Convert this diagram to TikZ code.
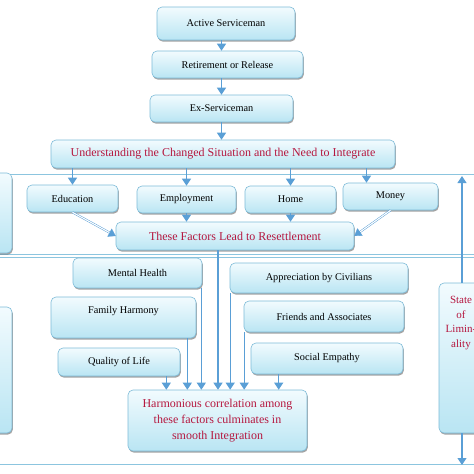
\documentclass[tikz,border=0pt]{standalone}
\usepackage{fontspec}
\setmainfont{Liberation Serif}
\usetikzlibrary{arrows.meta,shadows}

\definecolor{boxline}{HTML}{7DBBD8}
\definecolor{boxtop}{HTML}{F2FBFE}
\definecolor{boxbot}{HTML}{B9E5F3}
\definecolor{arrowblue}{HTML}{5A9FD6}
\definecolor{redtxt}{HTML}{B5173F}
\definecolor{frameline}{HTML}{8CC5DF}

\tikzset{
  stagebox/.style={draw=boxline, line width=0.6pt, rounded corners=5pt,
    top color=boxtop, bottom color=boxbot,
    drop shadow={shadow xshift=0.8pt, shadow yshift=-1.6pt, fill=black!60, opacity=0.6},
    align=center, inner sep=2pt, font=\fontsize{10.3}{12}\selectfont},
  keybox/.style={stagebox, text=redtxt, font=\fontsize{12}{16}\selectfont},
  flow/.style={draw=arrowblue, line width=1.1pt, -{Triangle[width=9pt,length=7pt]}},
  dflow/.style={draw=white, line width=0.3pt, -{Triangle[width=9pt,length=7pt,color=arrowblue]},
    preaction={draw=arrowblue, double=white, line width=0.5pt, double distance=1pt, shorten >=6pt, -}},
  frame/.style={draw=frameline, double=white, line width=0.5pt, double distance=0.8pt},
}

\begin{document}
\begin{tikzpicture}[x=1pt,y=-1pt]
  \useasboundingbox (0,0) rectangle (474,474);
  \clip (0,0) rectangle (474,474);
  \fill[white] (0,0) rectangle (474,474);

  % two frames
  \draw[frame] (-20,175) rectangle (500,255);
  \draw[frame] (-20,258) rectangle (500,465);

  % side boxes (cut by the edge)
  \node[stagebox, minimum width=84pt, minimum height=80pt] (sidetop) at (-30,213) {};
  \node[stagebox, minimum width=84pt, minimum height=126pt] (sidelow) at (-30,370) {};

  % stages
  \node[stagebox, minimum width=138pt, minimum height=33pt] (active) at (226,23.5) {Active Serviceman};
  \node[stagebox, minimum width=151pt, minimum height=27pt] (ret) at (227.5,64.5) {Retirement or Release};
  \node[stagebox, minimum width=143pt, minimum height=27pt] (ex) at (221.5,108.5) {Ex-Serviceman};
  \node[keybox, minimum width=344pt, minimum height=28pt] (und) at (223,154) {Understanding the Changed Situation and the Need to Integrate};

  % factors
  \node[stagebox, minimum width=91pt, minimum height=27pt] (edu) at (72.5,198.5) {Education};
  \node[stagebox, minimum width=99pt, minimum height=27pt] (emp) at (186.5,199.5) {Employment};
  \node[stagebox, minimum width=91pt, minimum height=27pt] (home) at (290.5,199.5) {Home};
  \node[stagebox, minimum width=95pt, minimum height=27pt] (money) at (390.5,196.5) {Money};
  \node[keybox, minimum width=238pt, minimum height=28pt] (res) at (235,236) {These Factors Lead to Resettlement};

  % integration
  \node[stagebox, minimum width=129pt, minimum height=30pt] (mh) at (137.5,273) {Mental Health};
  \node[stagebox, minimum width=145pt, minimum height=41pt, text height=7pt, text depth=15pt] (fam) at (123.5,317.5) {Family Harmony};
  \node[stagebox, minimum width=122pt, minimum height=28pt] (qol) at (119,362) {Quality of Life};
  \node[stagebox, minimum width=178pt, minimum height=30pt] (app) at (319,278) {Appreciation by Civilians};
  \node[stagebox, minimum width=160pt, minimum height=31pt] (fri) at (324,316.5) {Friends and Associates};
  \node[stagebox, minimum width=152pt, minimum height=31pt] (soc) at (327,358.5) {Social Empathy};
  \node[keybox, minimum width=179pt, minimum height=61pt] (harm) at (217.5,420.5) {Harmonious correlation among\\these factors culminates in\\smooth Integration};

  \node[stagebox, minimum width=44pt, minimum height=150pt,
    label={[anchor=north, yshift=-10pt, align=center, text=redtxt, font=\fontsize{11}{14.5}\selectfont]north:State\\of\\Limin-\\ality}] (state) at (461,358) {};

  % chain
  \draw[flow] (active.south -| ex.south) -- (ret.north -| ex.south);
  \draw[flow] (ret.south -| ex.north) -- (ex.north);
  \draw[flow] (ex.south) -- (ex.south |- und.north);

  \coordinate (mtop) at ([xshift=-24pt]money.north);
  \draw[flow] (edu.north |- und.south) -- (edu.north);
  \draw[flow] (emp.north |- und.south) -- (emp.north);
  \draw[flow] (home.north |- und.south) -- (home.north);
  \draw[flow] (mtop |- und.south) -- (mtop);

  \draw[dflow] (edu.south) -- (res.west);
  \draw[flow] (emp.south) -- (emp.south |- res.north);
  \draw[flow] (home.south) -- (home.south |- res.north);
  \draw[dflow] (money.south) -- (res.east);

  % into harmonious box
  \coordinate (q1) at ([xshift=-14pt]qol.south east);
  \coordinate (q2) at ([xshift=-9pt]fam.south east);
  \coordinate (q3) at ([xshift=-1pt]mh.south east);
  \coordinate (q4) at ([xshift=-17pt]res.south);
  \coordinate (q5) at ([xshift=0.5pt]app.south west);
  \coordinate (q6) at ([xshift=0.5pt]fri.south west);
  \coordinate (q7) at ([xshift=28pt]soc.south west);
  \foreach \q in {q1,q2,q3,q4,q5,q6,q7}
    \draw[flow] (\q) -- (\q |- harm.north);

  % liminality
  \coordinate (ftop) at (462,176);
  \coordinate (fbot) at (462,465);
  \draw[flow] (state.north -| ftop) -- (ftop);
  \draw[flow] (state.south -| fbot) -- (fbot);
\end{tikzpicture}
\end{document}
